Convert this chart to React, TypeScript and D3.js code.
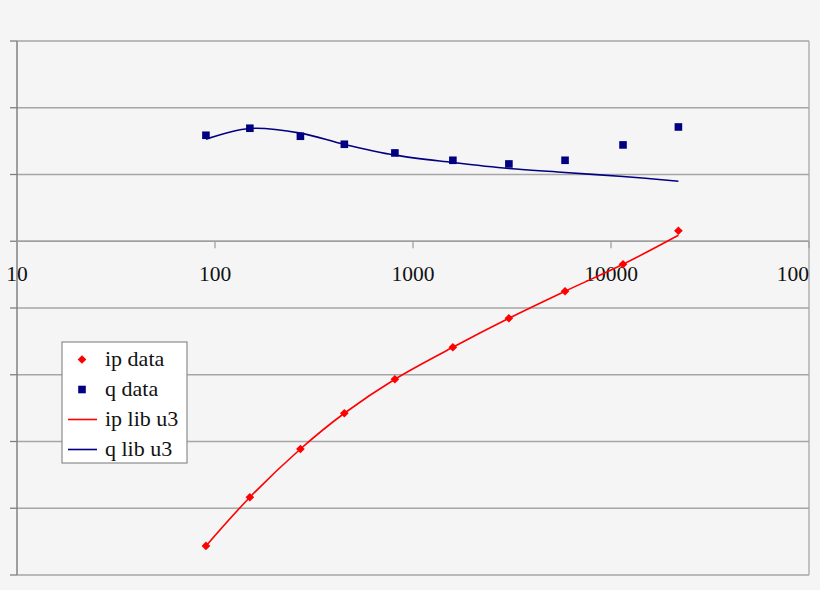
import { useEffect, useRef } from 'react'
import * as d3 from 'd3'

// frequencies (x, log scale)
const freq = [90, 150, 270, 450, 810, 1590, 3050, 5860, 11500, 21900]
// measured points
const ipData = [-4.565, -3.835, -3.112, -2.577, -2.067, -1.588, -1.154, -0.749, -0.345, 0.157]
const qData = [1.588, 1.693, 1.573, 1.453, 1.323, 1.213, 1.158, 1.213, 1.443, 1.712]
// library model curves
const ipLib = [-4.565, -3.835, -3.112, -2.577, -2.067, -1.588, -1.154, -0.749, -0.345, 0.09]
const qLib = [1.53, 1.69, 1.62, 1.45, 1.29, 1.18, 1.09, 1.03, 0.97, 0.9]

const xTicks = [10, 100, 1000, 10000, 100000]
const yTicks = [-5, -4, -3, -2, -1, 0, 1, 2, 3]

const legendItems = [
  { label: 'ip data', kind: 'diamond', color: '#ff0000' },
  { label: 'q data', kind: 'square', color: '#000080' },
  { label: 'ip lib u3', kind: 'line', color: '#ff0000' },
  { label: 'q lib u3', kind: 'line', color: '#000080' },
]

export default function App() {
  const ref = useRef<SVGSVGElement>(null)

  useEffect(() => {
    if (!ref.current) return
    const W = 820
    const H = 590
    const m = { left: 17, right: 11, top: 41, bottom: 15 }

    const svg = d3.select(ref.current)
    svg.selectAll('*').remove()

    svg.append('rect').attr('width', W).attr('height', H).attr('fill', '#f5f5f5')

    const x = d3.scaleLog().domain([10, 100000]).range([m.left, W - m.right])
    const y = d3.scaleLinear().domain([-5, 3]).range([H - m.bottom, m.top])

    // the last tick label is cut by the plot's right edge, as in the original
    svg.append('clipPath').attr('id', 'plotclip')
      .append('rect')
      .attr('x', 0).attr('y', 0)
      .attr('width', x(100000)).attr('height', H)

    // gridlines
    svg.selectAll('.grid')
      .data(yTicks)
      .enter()
      .append('line')
      .attr('x1', m.left)
      .attr('x2', x(100000))
      .attr('y1', d => y(d))
      .attr('y2', d => y(d))
      .attr('stroke', '#a6a6a6')
      .attr('stroke-width', 1.3)

    // right border
    svg.append('line')
      .attr('x1', x(100000)).attr('x2', x(100000))
      .attr('y1', y(3)).attr('y2', y(-5))
      .attr('stroke', '#a6a6a6').attr('stroke-width', 1.3)

    // y axis
    svg.append('line')
      .attr('x1', m.left).attr('x2', m.left)
      .attr('y1', y(3)).attr('y2', y(-5))
      .attr('stroke', '#808080').attr('stroke-width', 1.5)
    svg.selectAll('.ytick')
      .data(yTicks)
      .enter()
      .append('line')
      .attr('x1', m.left - 7).attr('x2', m.left)
      .attr('y1', d => y(d)).attr('y2', d => y(d))
      .attr('stroke', '#808080').attr('stroke-width', 1.3)

    // x axis at y = 0
    svg.append('line')
      .attr('x1', m.left).attr('x2', x(100000))
      .attr('y1', y(0)).attr('y2', y(0))
      .attr('stroke', '#a0a0a0').attr('stroke-width', 1.5)
    svg.selectAll('.xtick')
      .data(xTicks)
      .enter()
      .append('line')
      .attr('x1', d => x(d)).attr('x2', d => x(d))
      .attr('y1', y(0)).attr('y2', y(0) + 7)
      .attr('stroke', '#a0a0a0').attr('stroke-width', 1.3)
    svg.append('g')
      .attr('clip-path', 'url(#plotclip)')
      .selectAll('text')
      .data(xTicks)
      .enter()
      .append('text')
      .attr('x', d => x(d))
      .attr('y', y(0) + 40)
      .attr('text-anchor', 'middle')
      .attr('font-family', '"Liberation Serif", "Times New Roman", serif')
      .attr('font-size', 21.5)
      .attr('fill', '#111')
      .text(d => String(d))

    const pts = (vals: number[]) => freq.map((f, i) => [x(f), y(vals[i])] as [number, number])
    const line = d3.line().curve(d3.curveCatmullRom.alpha(0.5))

    svg.append('path')
      .attr('d', line(pts(qLib)))
      .attr('fill', 'none').attr('stroke', '#000080').attr('stroke-width', 1.6)
    svg.append('path')
      .attr('d', line(pts(ipLib)))
      .attr('fill', 'none').attr('stroke', '#ff0000').attr('stroke-width', 1.6)

    svg.selectAll('.qpt')
      .data(pts(qData))
      .enter()
      .append('rect')
      .attr('x', d => d[0] - 3.8).attr('y', d => d[1] - 3.8)
      .attr('width', 7.6).attr('height', 7.6)
      .attr('fill', '#000080')

    const diamond = d3.symbol().type(d3.symbolDiamond2).size(48)
    svg.selectAll('.ippt')
      .data(pts(ipData))
      .enter()
      .append('path')
      .attr('d', diamond())
      .attr('transform', d => `translate(${d[0]},${d[1]})`)
      .attr('fill', '#ff0000')

    // legend
    const lg = svg.append('g').attr('transform', 'translate(62,342)')
    lg.append('rect')
      .attr('width', 125).attr('height', 121)
      .attr('fill', '#ffffff').attr('stroke', '#8c8c8c').attr('stroke-width', 1.2)
    legendItems.forEach((it, i) => {
      const cy = 17.5 + i * 30
      if (it.kind === 'diamond') {
        lg.append('path').attr('d', diamond()).attr('transform', `translate(20,${cy})`).attr('fill', it.color)
      } else if (it.kind === 'square') {
        lg.append('rect').attr('x', 16.2).attr('y', cy - 3.8).attr('width', 7.6).attr('height', 7.6).attr('fill', it.color)
      } else {
        lg.append('line').attr('x1', 6).attr('x2', 35).attr('y1', cy).attr('y2', cy)
          .attr('stroke', it.color).attr('stroke-width', 1.6)
      }
      lg.append('text')
        .attr('x', 43).attr('y', cy + 6.8)
        .attr('font-family', '"Liberation Serif", "Times New Roman", serif')
        .attr('font-size', 22)
        .attr('fill', '#111')
        .text(it.label)
    })
  }, [])

  return (
    <div style={{ position: 'absolute', left: 0, top: 0 }}>
      <svg ref={ref} width={820} height={590} style={{ display: 'block' }} />
    </div>
  )
}
